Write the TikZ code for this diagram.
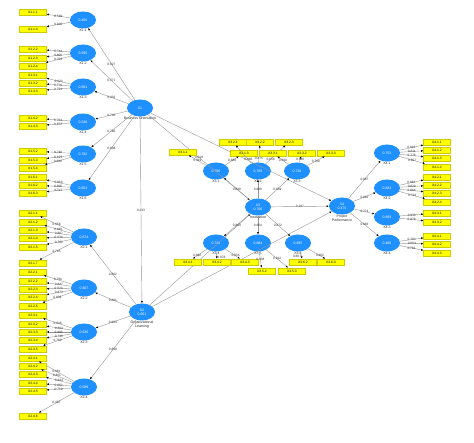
\documentclass[tikz,border=0pt]{standalone}
\usepackage{fontspec}
\setmainfont{Liberation Sans}
\usetikzlibrary{shapes.geometric,arrows.meta}
\definecolor{pblue}{RGB}{30,144,255}
\definecolor{pyel}{RGB}{255,255,0}
\definecolor{pline}{RGB}{150,150,150}
\tikzset{
  lat/.style={ellipse, fill=pblue, minimum width=26pt, minimum height=17pt, inner sep=0pt, text=white, font=\fontsize{3.5}{3.8}\selectfont, align=center},
  ind/.style={rectangle, fill=pyel, draw=pyel!80!black, line width=0.2pt, minimum width=27pt, minimum height=6.5pt, inner sep=0pt, font=\fontsize{3.3}{4}\selectfont},
  pth/.style={draw=pline, line width=0.4pt, -{Latex[length=2.2pt,width=2pt,color=black]}},
  lab/.style={font=\fontsize{3.2}{4}\selectfont, inner sep=0.4pt, text=black!80},
  capt/.style={font=\fontsize{3.5}{4}\selectfont, align=center, inner sep=0.5pt, text=black!85}
}
\newcommand{\mkind}[6][]{\node[ind] (#2) at #4 {#5}; \draw[pth] (#3) -- node[lab,#1]{#6} (#2);}
\begin{document}
\begin{tikzpicture}[x=1pt,y=-1pt]
\fill[white] (0,0) rectangle (474,443);
\useasboundingbox (0,0) rectangle (474,443);

% ---- second-order constructs
\node[lat] (X1) at (140,108) {X1};
\node[capt, anchor=north] (tX1) at (X1.south) {Business Orientation};
\node[lat] (X2) at (142,312) {X2\\0.601};
\node[capt, anchor=north] (tX2) at (X2.south) {Organizational\\Learning};
\node[lat] (X3) at (258,207) {X3\\0.766};
\node[capt, anchor=north] (tX3) at (X3.south) {Innovation};
\node[lat] (X4) at (342,206) {X4\\0.475};
\node[capt, anchor=north] (tX4) at (X4.south) {Project\\Performance};

% ---- X1 dimensions
\node[lat] (c11) at (83,20) {0.456};
\node[lat] (c12) at (83,53) {0.595};
\node[lat] (c13) at (83,87) {0.691};
\node[lat] (c14) at (83,122) {0.548};
\node[lat] (c15) at (83,154) {0.782};
\node[lat] (c16) at (83,188) {0.653};
\node[capt, anchor=north] (t11) at (c11.south) {X1.1};
\node[capt, anchor=north] (t12) at (c12.south) {X1.2};
\node[capt, anchor=north] (t13) at (c13.south) {X1.3};
\node[capt, anchor=north] (t14) at (c14.south) {X1.4};
\node[capt, anchor=north] (t15) at (c15.south) {X1.5};
\node[capt, anchor=north] (t16) at (c16.south) {X1.6};

% ---- X2 dimensions
\node[lat] (c21) at (84,237) {0.674};
\node[lat] (c22) at (84,288) {0.667};
\node[lat] (c23) at (84,332) {0.630};
\node[lat] (c24) at (84,387) {0.589};
\node[capt, anchor=north] (t21) at (c21.south) {X2.1};
\node[capt, anchor=north] (t22) at (c22.south) {X2.2};
\node[capt, anchor=north] (t23) at (c23.south) {X2.3};
\node[capt, anchor=north] (t24) at (c24.south) {X2.4};

% ---- X3 dimensions
\node[lat] (c31) at (216,171) {0.706};
\node[lat] (c32) at (258,171) {0.768};
\node[lat] (c33) at (297,171) {0.738};
\node[lat] (c34) at (216,243) {0.740};
\node[lat] (c35) at (258,243) {0.884};
\node[lat] (c36) at (298,243) {0.895};
\node[capt, anchor=north] (t31) at (c31.south) {X3.1};
\node[capt, anchor=north] (t32) at (c32.south) {X3.2};
\node[capt, anchor=north] (t33) at (c33.south) {X3.3};
\node[capt, anchor=north] (t34) at (c34.south) {X3.4};
\node[capt, anchor=north] (t35) at (c35.south) {X3.5};
\node[capt, anchor=north] (t36) at (c36.south) {X3.6};

% ---- X4 dimensions
\node[lat] (c41) at (387,153) {0.752};
\node[lat] (c42) at (387,188) {0.833};
\node[lat] (c43) at (387,217) {0.809};
\node[lat] (c44) at (387,243) {0.480};
\node[capt, anchor=north] (t41) at (c41.south) {X4.1};
\node[capt, anchor=north] (t42) at (c42.south) {X4.2};
\node[capt, anchor=north] (t43) at (c43.south) {X4.3};
\node[capt, anchor=north] (t44) at (c44.south) {X4.4};

% ---- structural paths
\draw[pth] (X1) -- node[lab]{0.233} (X2);
\draw[pth] (X1) -- node[lab]{0.019} (X3);
\draw[pth] (X1) -- (X4);
\draw[pth] (X2) -- (X3);
\draw[pth] (X2) -- (X4);
\draw[pth] (X3) -- node[lab]{0.287} (X4);

% ---- second-order loadings
\draw[pth] (X1) -- node[lab]{0.627} (c11);
\draw[pth] (X1) -- node[lab]{0.771} (c12);
\draw[pth] (X1) -- node[lab]{0.832} (c13);
\draw[pth] (X1) -- node[lab]{0.740} (c14);
\draw[pth] (X1) -- node[lab]{0.780} (c15);
\draw[pth] (X1) -- node[lab]{0.808} (c16);
\draw[pth] (X2) -- node[lab]{0.802} (c21);
\draw[pth] (X2) -- node[lab]{0.801} (c22);
\draw[pth] (X2) -- node[lab]{0.903} (c23);
\draw[pth] (X2) -- node[lab]{0.899} (c24);
\draw[pth] (X3) -- node[lab]{0.840} (c31);
\draw[pth] (X3) -- node[lab]{0.880} (c32);
\draw[pth] (X3) -- node[lab]{0.859} (c33);
\draw[pth] (X3) -- node[lab]{0.860} (c34);
\draw[pth] (X3) -- node[lab]{0.864} (c35);
\draw[pth] (X3) -- node[lab]{0.872} (c36);
\draw[pth] (X4) -- node[lab]{0.867} (c41);
\draw[pth] (X4) -- node[lab]{0.862} (c42);
\draw[pth] (X4) -- node[lab]{0.774} (c43);
\draw[pth] (X4) -- node[lab]{0.883} (c44);

% ---- indicators X1
\mkind{i111}{c11}{(33,12)}{X1.1.1}{0.569}
\mkind{i114}{c11}{(33,29)}{X1.1.4}{0.800}
\mkind{i122}{c12}{(33,49)}{X1.2.2}{0.744}
\mkind{i123}{c12}{(33,58)}{X1.2.3}{0.800}
\mkind{i124}{c12}{(33,66)}{X1.2.4}{0.708}
\mkind{i131}{c13}{(33,75)}{X1.3.1}{0.823}
\mkind{i132}{c13}{(33,83)}{X1.3.2}{0.776}
\mkind{i133}{c13}{(33,91)}{X1.3.3}{0.724}
\mkind{i142}{c14}{(33,118)}{X1.4.2}{0.764}
\mkind{i143}{c14}{(33,126)}{X1.4.3}{0.872}
\mkind{i152}{c15}{(33,151)}{X1.5.2}{0.748}
\mkind{i153}{c15}{(33,160)}{X1.5.3}{0.823}
\mkind{i154}{c15}{(33,168)}{X1.5.4}{0.880}
\mkind{i161}{c16}{(33,177)}{X1.6.1}{0.860}
\mkind{i162}{c16}{(33,185)}{X1.6.2}{0.806}
\mkind{i163}{c16}{(33,193)}{X1.6.3}{0.713}

% ---- indicators X2
\mkind{i211}{c21}{(33,213)}{X2.1.1}{0.658}
\mkind{i212}{c21}{(33,222)}{X2.1.2}{0.848}
\mkind{i213}{c21}{(33,230)}{X2.1.3}{0.867}
\mkind{i214}{c21}{(33,238)}{X2.1.4}{0.833}
\mkind{i215}{c21}{(33,247)}{X2.1.5}{0.702}
\mkind{i217}{c21}{(33,263)}{X2.1.7}{0.785}
\mkind{i221}{c22}{(33,272)}{X2.2.1}{0.796}
\mkind{i222}{c22}{(33,281)}{X2.2.2}{0.847}
\mkind{i223}{c22}{(33,289)}{X2.2.3}{0.823}
\mkind{i224}{c22}{(33,297)}{X2.2.4}{0.873}
\mkind{i225}{c22}{(33,306)}{X2.2.5}{0.839}
\mkind{i231}{c23}{(33,315)}{X2.3.1}{0.828}
\mkind{i232}{c23}{(33,324)}{X2.3.2}{0.803}
\mkind{i233}{c23}{(33,332)}{X2.3.3}{0.885}
\mkind{i234}{c23}{(33,340)}{X2.3.4}{0.740}
\mkind{i235}{c23}{(33,349)}{X2.3.5}{0.760}
\mkind{i241}{c24}{(33,358)}{X2.4.1}{0.881}
\mkind{i242}{c24}{(33,366)}{X2.4.2}{0.861}
\mkind{i243}{c24}{(33,374)}{X2.4.3}{0.844}
\mkind{i244}{c24}{(33,383)}{X2.4.4}{0.862}
\mkind{i245}{c24}{(33,391)}{X2.4.5}{0.719}
\mkind{i246}{c24}{(33,416)}{X2.4.6}{0.497}

% ---- indicators X3
\mkind{i311}{c31}{(183,152)}{X3.1.1}{0.919}
\mkind{i313}{c31}{(244,153)}{X3.1.3}{0.880}
\mkind[pos=0.2]{i321}{c32}{(233,142)}{X3.2.1}{0.886}
\mkind[pos=0.25]{i322}{c32}{(260,142)}{X3.2.2}{0.875}
\mkind[pos=0.25]{i323}{c32}{(289,142)}{X3.2.3}{0.858}
\mkind{i331}{c33}{(273,153)}{X3.3.1}{0.890}
\mkind{i332}{c33}{(302,153)}{X3.3.2}{0.920}
\mkind{i333}{c33}{(331,153)}{X3.3.3}{0.760}
\mkind[pos=0.7]{i341}{c34}{(188,262)}{X3.4.1}{0.892}
\mkind[pos=0.75,anchor=west]{i342}{c34}{(217,262)}{X3.4.2}{0.878}
\mkind[pos=0.7]{i343}{c34}{(245,262)}{X3.4.3}{0.836}
\mkind{i352}{c35}{(262,271)}{X3.5.2}{0.838}
\mkind{i353}{c35}{(292,271)}{X3.5.3}{0.912}
\mkind[pos=0.75,anchor=east]{i362}{c36}{(303,262)}{X3.6.2}{0.887}
\mkind[pos=0.7]{i363}{c36}{(331,262)}{X3.6.3}{0.902}

% ---- indicators X4
\mkind{i411}{c41}{(437,142)}{X4.1.1}{0.816}
\mkind{i412}{c41}{(437,150)}{X4.1.2}{0.811}
\mkind{i413}{c41}{(437,158)}{X4.1.3}{0.776}
\mkind{i414}{c41}{(437,167)}{X4.1.4}{0.857}
\mkind{i421}{c42}{(437,177)}{X4.2.1}{0.862}
\mkind{i422}{c42}{(437,185)}{X4.2.2}{0.829}
\mkind{i423}{c42}{(437,193)}{X4.2.3}{0.864}
\mkind{i424}{c42}{(437,202)}{X4.2.4}{0.724}
\mkind{i431}{c43}{(437,213)}{X4.3.1}{0.930}
\mkind{i432}{c43}{(437,222)}{X4.3.2}{0.878}
\mkind{i441}{c44}{(437,236)}{X4.4.1}{0.703}
\mkind{i442}{c44}{(437,244)}{X4.4.2}{0.884}
\mkind{i443}{c44}{(437,253)}{X4.4.3}{0.783}
\end{tikzpicture}
\end{document}
